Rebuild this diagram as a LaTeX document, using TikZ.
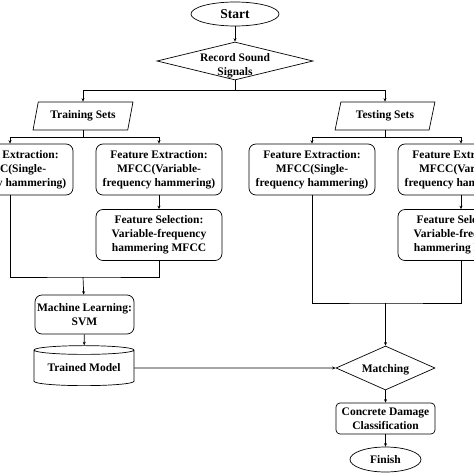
\documentclass[tikz,border=0pt]{standalone}
\usepackage{fontspec}
\setmainfont{Liberation Serif}
\usetikzlibrary{arrows.meta,shapes.geometric}

% text that does not size its node
\newcommand{\flattext}[2][0pt]{\smash{\raisebox{#1}{\makebox[0pt]{\begin{tabular}[c]{@{}c@{}}#2\end{tabular}}}}}

\begin{document}
\begin{tikzpicture}[x=1pt,y=-1pt,
		font=\bfseries\fontsize{11.5}{14}\selectfont,
		line width=0.7pt,
		flow/.style={-{Stealth[length=3.5pt,width=3pt]}},
		terminal/.style={draw,ellipse,inner sep=0pt},
		decision/.style={draw,diamond,inner sep=0pt},
		dataset/.style={draw,trapezium,trapezium left angle=70,trapezium right angle=110,
			trapezium stretches=true,minimum width=100,minimum height=28,inner sep=0pt},
		process/.style={draw,rounded corners=7pt,minimum width=126,minimum height=51,
			align=center,inner sep=0pt},
		storage/.style={draw,cylinder,shape border rotate=90,aspect=0.12,
			minimum width=100,minimum height=40,inner sep=0pt}]
		\useasboundingbox (0,0) rectangle (474,474);
		\clip (0,0) rectangle (474,474);
		
		% Top of the chart
		\node[terminal,minimum width=88,minimum height=24,font=\bfseries\fontsize{13.5}{16}\selectfont] (start) at (235,14) {Start};
		\node[decision,minimum width=156,minimum height=38] (record) at (235,61) {\flattext[-7.5pt]{Record Sound\\Signals}};
		\node[dataset] (train) at (83,116) {Training Sets};
		\node[dataset] (test) at (385,116) {Testing Sets};
		
		% Training branch
		\node[process] (fe1) at (10,169.5) {Feature Extraction:\\MFCC(Single-\\frequency hammering)};
		\node[process] (fe2) at (159,169.5) {Feature Extraction:\\MFCC(Variable-\\frequency hammering)};
		\node[process] (fs1) at (159,235) {Feature Selection:\\Variable-frequency\\hammering MFCC};
		\node[process,minimum width=99,minimum height=39] (ml) at (84.5,314.5) {Machine Learning:\\SVM};
		\node[storage] (model) at (84,368) {Trained Model};
		
		% Testing branch
		\node[process] (te1) at (312,169.5) {Feature Extraction:\\MFCC(Single-\\frequency hammering)};
		\node[process] (te2) at (461,169.5) {Feature Extraction:\\MFCC(Variable-\\frequency hammering)};
		\node[process] (ts2) at (461,235) {Feature Selection:\\Variable-frequency\\hammering MFCC};
		\node[decision,minimum width=99,minimum height=44] (match) at (385.5,368) {\flattext[-5pt]{Matching}};
		\node[process,rounded corners=4pt,minimum width=99,minimum height=31] (damage) at (385.5,418.5) {Concrete Damage\\Classification};
		\node[terminal,minimum width=71,minimum height=25] (finish) at (385.5,459.5) {Finish};
		
		% Connectors
		\draw[flow] (start) -- (record);
		\draw (record.south) -- ++(0,10) coordinate (split0);
		\draw[flow] (split0) -| (train.north);
		\draw[flow] (split0) -| (test.north);
		
		\draw (train.south) -- ++(0,7) coordinate (split1);
		\draw[flow] (split1) -| (fe1.north);
		\draw[flow] (split1) -| (fe2.north);
		\draw[flow] (fe2) -- (fs1);
		\coordinate (join1) at (83,277);
		\draw (fe1.south) |- (join1) -| (fs1.south);
		\draw[flow] (join1) -- (ml);
		\draw[flow] (ml) -- (model);
		
		\draw (test.south) -- ++(0,7) coordinate (split2);
		\draw[flow] (split2) -| (te1.north);
		\draw[flow] (split2) -| (te2.north);
		\draw[flow] (te2) -- (ts2);
		\coordinate (join2) at (385.5,303);
		\draw (te1.south) |- (join2) -| (ts2.south);
		\draw[flow] (join2) -- (match);
		
		\draw[flow] (model) -- (match);
		\draw[flow] (match) -- (damage);
		\draw[flow] (damage) -- (finish);
		
\end{tikzpicture}
\end{document}
